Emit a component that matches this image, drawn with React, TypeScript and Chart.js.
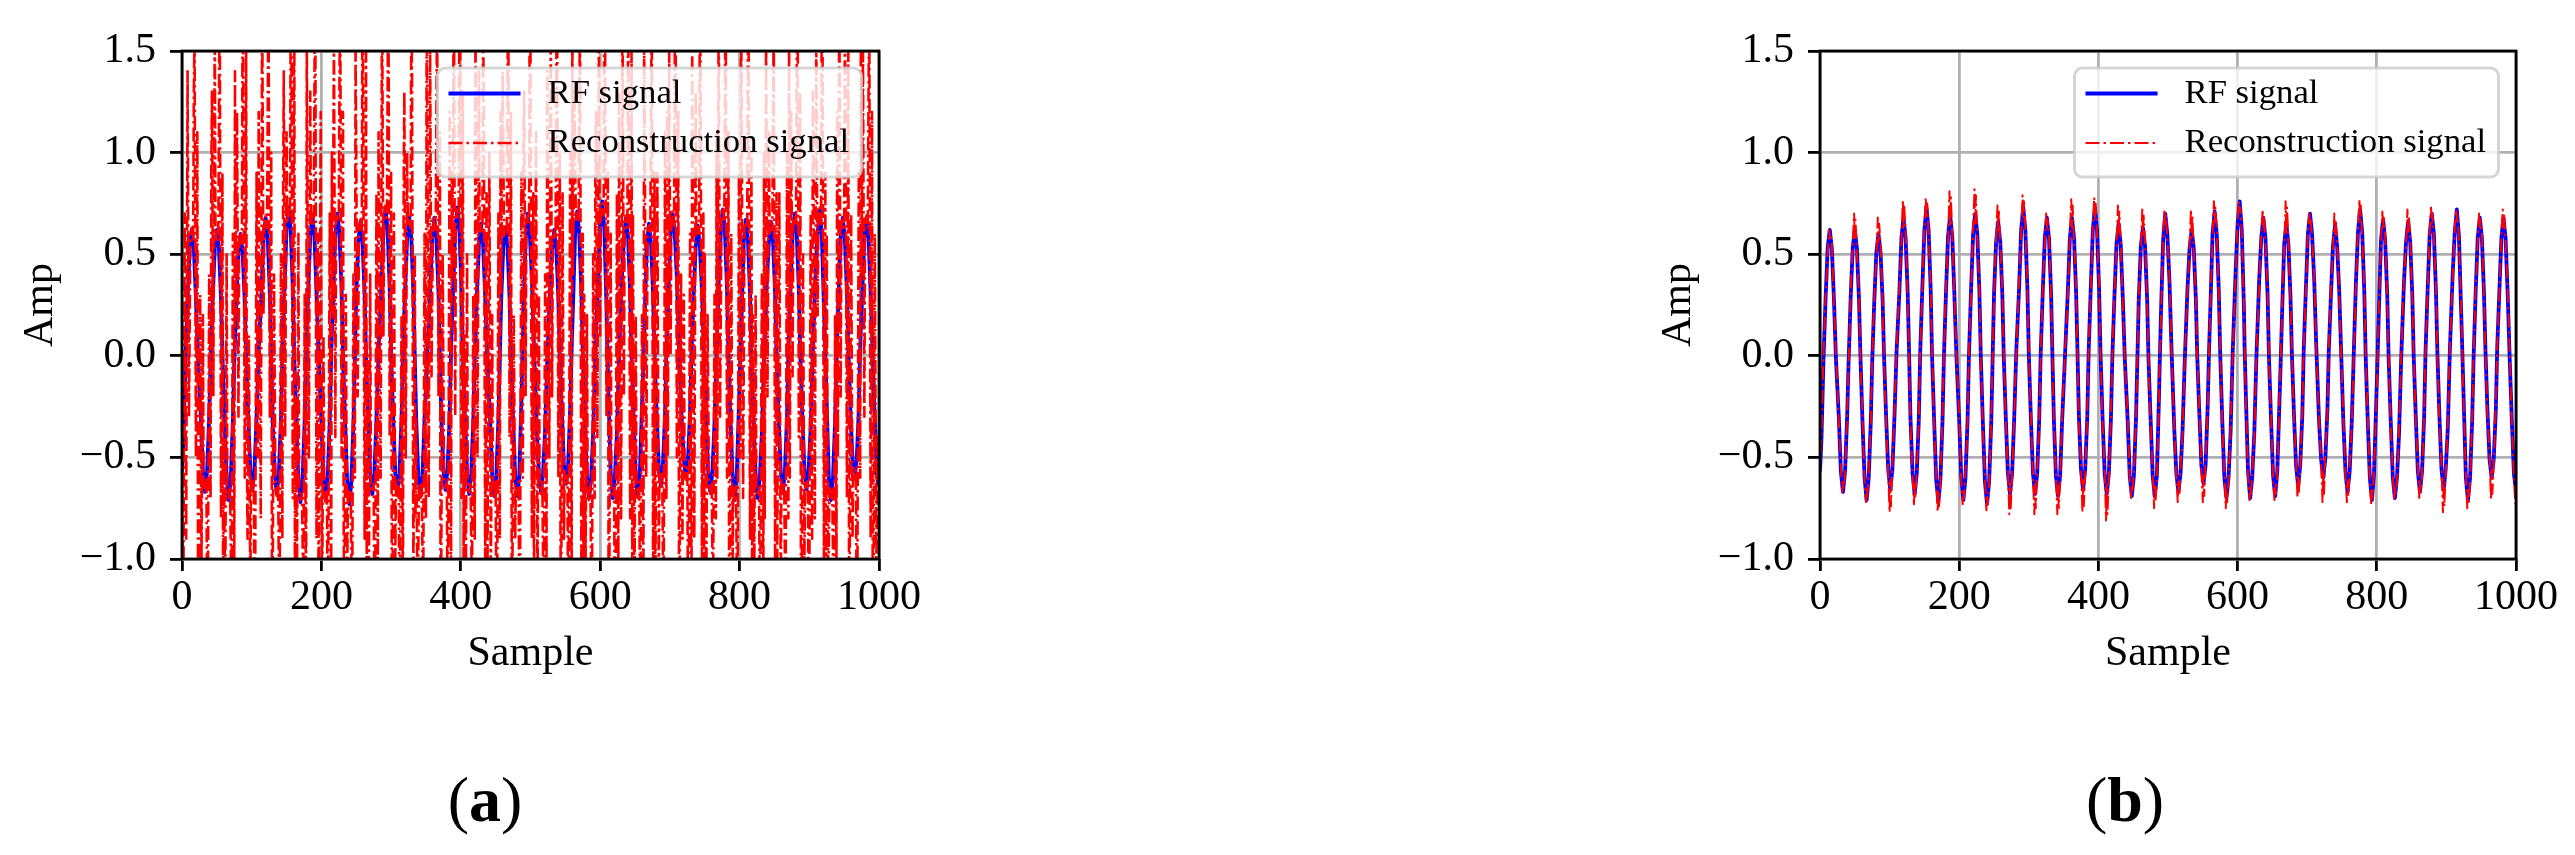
import React, { useEffect, useRef } from "react";
import { Chart, registerables } from "chart.js";

Chart.register(...registerables);

const FONT = "'Liberation Serif', 'Times New Roman', serif";

// ---------------- data ----------------
const xTicks = [0, 200, 400, 600, 800, 1000];
const yTicks = [-1.0, -0.5, 0.0, 0.5, 1.0, 1.5];
const seriesNames = ["RF signal", "Reconstruction signal"];
const xTitle = "Sample";
const yTitle = "Amp";
const panelTags = ["a", "b"];

// RF signal: [sample, amplitude]
const rfSignal: [number, number][] = [
  [0,-0.57],[2,-0.42],[5,-0.02],
  [8,0.28],[11,0.53],[14,0.62],[17,0.53],[20,0.28],[23,-0.02],
  [27,-0.30],[30,-0.57],[33,-0.67],[36,-0.57],[39,-0.30],[41,-0.04],
  [44,0.28],[47,0.53],[50,0.62],[53,0.53],[56,0.28],[58,0.01],
  [61,-0.32],[64,-0.60],[67,-0.71],[70,-0.60],[73,-0.32],[75,-0.03],
  [78,0.27],[81,0.51],[84,0.60],[87,0.51],[90,0.27],[92,0.00],
  [95,-0.30],[98,-0.56],[101,-0.66],[104,-0.56],[107,-0.30],[110,0.02],
  [114,0.31],[117,0.58],[120,0.68],[123,0.58],[126,0.31],[128,0.01],
  [130,-0.31],[133,-0.58],[136,-0.68],[139,-0.58],[142,-0.31],[144,0.02],
  [147,0.33],[150,0.62],[153,0.73],[156,0.62],[159,0.33],[161,0.00],
  [164,-0.32],[167,-0.61],[170,-0.72],[173,-0.61],[176,-0.32],[178,-0.01],
  [181,0.31],[184,0.59],[187,0.69],[190,0.59],[193,0.31],[196,0.00],
  [200,-0.32],[203,-0.60],[206,-0.71],[209,-0.60],[212,-0.32],[214,0.00],
  [217,0.32],[220,0.60],[223,0.70],[226,0.60],[229,0.32],[231,0.00],
  [234,-0.33],[237,-0.62],[240,-0.73],[243,-0.62],[246,-0.33],[248,-0.02],
  [250,0.30],[253,0.56],[256,0.66],[259,0.56],[262,0.30],[264,0.00],
  [267,-0.31],[270,-0.58],[273,-0.68],[276,-0.58],[279,-0.31],[282,0.02],
  [286,0.33],[289,0.62],[292,0.73],[295,0.62],[298,0.33],[300,0.01],
  [303,-0.31],[306,-0.58],[309,-0.68],[312,-0.58],[315,-0.31],[317,0.00],
  [320,0.31],[323,0.58],[326,0.68],[329,0.58],[332,0.31],[334,-0.01],
  [336,-0.31],[339,-0.59],[342,-0.69],[345,-0.59],[348,-0.31],[352,0.00],
  [356,0.31],[359,0.58],[362,0.68],[365,0.58],[368,0.31],[370,0.01],
  [372,-0.30],[375,-0.56],[378,-0.66],[381,-0.56],[384,-0.30],[386,0.02],
  [389,0.33],[392,0.62],[395,0.73],[398,0.62],[401,0.33],[403,0.02],
  [406,-0.31],[409,-0.58],[412,-0.68],[415,-0.58],[418,-0.31],[420,-0.01],
  [423,0.29],[426,0.55],[429,0.65],[432,0.55],[435,0.29],[438,-0.02],
  [442,-0.31],[445,-0.59],[448,-0.69],[451,-0.59],[454,-0.31],[456,-0.02],
  [458,0.28],[461,0.54],[464,0.63],[467,0.54],[470,0.28],[472,-0.02],
  [475,-0.31],[478,-0.59],[481,-0.69],[484,-0.59],[487,-0.21],[488,-0.05],
  [490,0.22],[493,0.57],[496,0.70],[499,0.60],[502,0.38],[505,0.04],
  [509,-0.36],[512,-0.58],[515,-0.67],[518,-0.58],[521,-0.36],[524,-0.03],
  [528,0.33],[531,0.53],[534,0.62],[537,0.53],[540,0.28],[542,0.00],
  [545,-0.28],[548,-0.54],[551,-0.63],[554,-0.54],[557,-0.25],[559,0.03],
  [561,0.25],[564,0.60],[567,0.71],[570,0.60],[573,0.32],[575,0.01],
  [578,-0.32],[581,-0.60],[584,-0.70],[587,-0.60],[590,-0.37],[593,0.02],
  [597,0.40],[600,0.65],[603,0.76],[606,0.62],[609,0.25],[610,0.05],
  [612,-0.21],[615,-0.57],[618,-0.70],[621,-0.60],[624,-0.38],[627,-0.01],
  [631,0.37],[634,0.58],[637,0.68],[640,0.58],[643,0.31],[645,0.00],
  [648,-0.31],[651,-0.59],[654,-0.69],[657,-0.57],[660,-0.24],[662,-0.02],
  [664,0.22],[667,0.55],[670,0.65],[673,0.55],[676,0.29],[678,0.01],
  [681,-0.29],[684,-0.54],[687,-0.64],[690,-0.54],[693,-0.29],[695,0.03],
  [698,0.32],[701,0.60],[704,0.70],[707,0.60],[710,0.38],[713,0.05],
  [717,-0.32],[720,-0.51],[723,-0.60],[726,-0.51],[729,-0.27],[731,0.02],
  [734,0.29],[737,0.54],[740,0.64],[743,0.54],[746,0.32],[749,-0.01],
  [752,-0.33],[755,-0.57],[758,-0.67],[761,-0.57],[764,-0.33],[767,0.02],
  [770,0.36],[773,0.61],[776,0.72],[779,0.61],[782,0.32],[784,0.00],
  [787,-0.32],[790,-0.60],[793,-0.71],[796,-0.58],[799,-0.25],[801,-0.02],
  [803,0.22],[806,0.57],[809,0.67],[812,0.57],[815,0.30],[817,-0.01],
  [820,-0.32],[823,-0.60],[826,-0.70],[829,-0.60],[832,-0.38],[835,-0.02],
  [839,0.36],[842,0.56],[845,0.66],[848,0.56],[851,0.30],[853,0.00],
  [856,-0.30],[859,-0.57],[862,-0.67],[865,-0.57],[868,-0.30],[870,0.02],
  [873,0.32],[876,0.60],[879,0.70],[882,0.60],[885,0.32],[887,0.02],
  [890,-0.30],[893,-0.56],[896,-0.66],[899,-0.56],[902,-0.36],[905,0.03],
  [909,0.40],[912,0.61],[915,0.72],[918,0.59],[921,0.24],[923,0.01],
  [925,-0.24],[928,-0.60],[931,-0.71],[934,-0.60],[937,-0.32],[939,-0.02],
  [942,0.31],[945,0.58],[948,0.68],[951,0.58],[954,0.31],[956,0.04],
  [959,-0.27],[962,-0.51],[965,-0.60],[968,-0.51],[971,-0.27],[973,0.04],
  [976,0.31],[979,0.58],[982,0.68],[985,0.58],[988,0.31],[991,-0.02],
  [994,-0.32],[997,-0.58],[999,-0.64],
];

// Reconstruction signal, panel (a): [sample, amplitude]
const reconstructionA: [number, number][] = [
  [0,-0.55],[2,-1.20],[4,0.70],[6,-0.90],[8,1.40],[10,-0.30],[12,0.56],
  [14,0.63],[16,0.56],[17,1.30],[18,1.60],[20,-0.50],[22,1.10],[23,-1.10],[24,-1.20],[26,0.30],[28,-1.00],[30,0.20],[31,-0.62],
  [33,-0.66],[35,-0.61],[36,-1.20],[37,-1.30],[39,0.40],[41,-0.70],[42,0.90],[43,1.30],[45,-0.20],[47,1.70],[48,0.57],
  [50,0.61],[52,0.57],[53,1.10],[54,2.00],[56,-0.80],[58,0.90],[59,-1.30],[60,-0.40],[62,-1.30],[64,0.50],[65,-0.66],
  [67,-0.70],[69,-0.65],[70,-0.95],[71,-1.40],[73,0.60],[75,-1.00],[76,1.40],[77,0.20],[79,1.20],[81,-0.30],[82,0.56],
  [84,0.61],[86,0.55],[87,1.90],[88,1.30],[90,-0.60],[92,1.50],[93,-0.40],[94,-0.90],[96,0.10],[98,-1.20],[99,-0.60],
  [101,-0.67],[103,-0.61],[104,-1.30],[105,-1.10],[107,0.90],[109,-0.50],[110,1.20],[111,0.30],[113,-0.80],[115,1.80],[117,0.20],[118,0.62],
  [120,0.69],[122,0.63],[123,1.20],[124,1.90],[126,-0.30],[128,1.00],[129,-1.00],[130,-1.20],[132,0.40],[134,-0.62],
  [136,-0.69],[138,-0.63],[139,-1.10],[140,-1.30],[142,0.50],[144,-0.90],[145,0.70],[146,1.40],[148,-0.40],[150,1.10],[151,0.66],
  [153,0.72],[155,0.69],[156,1.80],[157,1.50],[159,-0.70],[161,2.10],[162,-1.20],[163,-0.20],[165,-1.10],[167,0.60],[168,-0.65],
  [170,-0.71],[172,-0.68],[173,-0.90],[174,-1.20],[176,0.30],[178,-1.40],[179,1.60],[180,0.80],[182,-0.50],[184,1.30],[185,0.64],
  [187,0.70],[189,0.65],[190,1.30],[191,2.10],[193,-0.90],[195,0.60],[196,-1.40],[197,-0.20],[199,1.20],[201,-1.30],[203,0.10],[204,-0.65],
  [206,-0.72],[208,-0.66],[209,-1.40],[210,-0.90],[212,0.70],[214,-1.20],[215,1.00],[216,0.20],[218,1.60],[220,-0.40],[221,0.65],
  [223,0.69],[225,0.66],[226,1.40],[227,1.80],[229,-0.50],[231,1.20],[232,-0.90],[233,-1.30],[235,0.30],[237,-1.10],[238,-0.66],
  [240,-0.72],[242,-0.67],[243,-1.00],[244,-1.40],[246,0.40],[248,-0.60],[249,1.50],[250,1.00],[252,-0.20],[254,0.62],
  [256,0.67],[258,0.61],[259,2.00],[260,1.20],[262,-0.90],[264,1.60],[265,-1.10],[266,0.00],[268,-1.20],[270,0.40],[271,-0.64],
  [273,-0.67],[275,-0.63],[276,-1.20],[277,-1.40],[279,0.80],[281,-1.00],[282,1.10],[283,0.30],[285,-0.60],[287,1.90],[289,0.10],[290,0.67],
  [292,0.74],[294,0.68],[295,1.30],[296,2.00],[298,-0.40],[300,0.90],[301,-1.30],[302,-1.20],[304,0.70],[306,-1.00],[307,-0.62],
  [309,-0.69],[311,-0.61],[312,-1.40],[313,-1.00],[315,0.20],[317,-1.30],[318,0.80],[319,1.30],[321,-0.50],[323,1.00],[324,0.64],
  [326,0.67],[328,0.63],[329,1.70],[330,1.40],[332,-1.10],[334,0.50],[335,-0.80],[336,-0.30],[338,-1.30],[340,-0.63],
  [342,-0.70],[344,-0.62],[345,-1.00],[346,-1.30],[348,0.60],[350,-0.80],[351,1.70],[352,1.20],[354,-0.70],[356,1.50],[358,-0.10],[360,0.62],
  [362,0.69],[364,0.62],[365,1.20],[366,1.70],[368,-0.20],[370,1.10],[371,-1.30],[372,-1.00],[374,0.50],[376,-0.62],
  [378,-0.65],[380,-0.62],[381,-1.30],[382,-0.90],[384,1.20],[386,-1.10],[387,0.90],[388,0.40],[390,2.00],[392,-0.30],[393,0.67],
  [395,0.72],[397,0.68],[398,1.90],[399,1.60],[401,-0.70],[403,1.30],[404,-1.00],[405,0.10],[407,-1.40],[409,0.50],[410,-0.64],
  [412,-0.67],[414,-0.63],[415,-0.90],[416,-1.20],[418,0.30],[420,-0.90],[421,1.60],[422,1.10],[424,-0.50],[426,1.40],[427,0.61],
  [429,0.64],[431,0.60],[432,1.60],[433,1.30],[435,-1.00],[437,0.80],[438,-1.40],[439,-0.30],[441,1.00],[443,-1.20],[445,0.20],[446,-0.63],
  [448,-0.70],[450,-0.62],[451,-1.20],[452,-1.40],[454,0.70],[456,-0.90],[457,1.20],[458,0.30],[460,1.40],[462,0.59],
  [464,0.62],[466,0.60],[467,1.30],[468,1.90],[470,-0.40],[472,1.20],[473,-1.00],[474,-1.10],[476,0.20],[478,-0.90],[479,-0.65],
  [481,-0.68],[483,-0.62],[484,-1.40],[485,-1.10],[487,0.90],[489,-0.60],[490,1.10],[491,1.30],[493,-0.20],[494,0.66],
  [496,0.69],[498,0.65],[499,2.00],[500,1.50],[502,-0.90],[504,0.80],[505,-1.30],[506,-0.20],[508,1.10],[510,-1.20],[512,0.30],[513,-0.61],
  [515,-0.68],[517,-0.62],[518,-1.00],[519,-1.30],[521,0.40],[523,-1.00],[524,1.40],[525,0.90],[527,-0.50],[529,1.70],[531,-0.20],[532,0.58],
  [534,0.61],[536,0.57],[537,1.40],[538,2.10],[540,-0.60],[542,1.00],[543,-0.90],[544,-1.30],[546,0.80],[548,-0.90],[549,-0.57],
  [551,-0.64],[553,-0.59],[554,-1.30],[555,-0.90],[557,1.00],[559,-1.20],[560,1.70],[561,0.40],[563,1.30],[565,0.67],
  [567,0.70],[569,0.66],[570,1.20],[571,1.80],[573,-1.10],[575,0.60],[576,-1.30],[577,0.30],[579,-1.00],[581,0.20],[582,-0.64],
  [584,-0.71],[586,-0.63],[587,-1.10],[588,-1.40],[590,0.50],[592,-0.70],[593,0.90],[594,1.20],[596,-0.40],[598,1.60],[600,0.10],[601,0.71],
  [603,0.75],[605,0.69],[606,2.10],[607,1.60],[609,-0.30],[611,0.90],[612,-1.10],[613,-1.20],[615,0.60],[616,-0.66],
  [618,-0.69],[620,-0.65],[621,-1.40],[622,-1.20],[624,0.80],[626,-1.00],[627,1.30],[628,0.10],[630,-0.80],[632,1.90],[634,-0.20],[635,0.62],
  [637,0.69],[639,0.63],[640,1.70],[641,1.20],[643,-0.80],[645,1.50],[646,-1.20],[647,0.70],[649,-1.30],[651,0.20],[652,-0.63],
  [654,-0.70],[656,-0.62],[657,-1.20],[658,-1.00],[660,0.20],[662,-1.30],[663,1.60],[664,1.00],[666,-0.60],[668,0.61],
  [670,0.64],[672,0.61],[673,1.30],[674,1.70],[676,-1.20],[678,0.90],[679,-1.40],[680,-0.40],[682,0.90],[684,-1.10],[685,-0.58],
  [687,-0.65],[689,-0.58],[690,-1.00],[691,-1.30],[693,1.10],[695,-0.70],[696,1.20],[697,-0.50],[699,1.50],[701,0.00],[702,0.64],
  [704,0.71],[706,0.64],[707,1.50],[708,2.00],[710,-0.50],[712,1.20],[713,-1.00],[714,-1.10],[716,0.40],[718,-0.90],[720,0.30],[721,-0.56],
  [723,-0.61],[725,-0.55],[726,-1.30],[727,-1.10],[729,0.60],[731,-1.30],[732,1.50],[733,0.80],[735,-0.90],[737,1.30],[738,0.60],
  [740,0.63],[742,0.60],[743,1.90],[744,1.40],[746,-1.00],[748,0.70],[749,-1.20],[750,0.50],[752,-1.40],[754,0.20],[756,-0.61],
  [758,-0.68],[760,-0.62],[761,-1.00],[762,-1.20],[764,0.30],[766,-0.80],[767,1.10],[768,-0.60],[770,1.80],[772,-0.30],[774,0.66],
  [776,0.73],[778,0.67],[779,1.30],[780,1.90],[782,-0.60],[784,1.10],[785,-1.40],[786,-1.20],[788,0.60],[790,-1.00],[791,-0.65],
  [793,-0.72],[795,-0.64],[796,-1.10],[797,-1.40],[799,0.90],[801,-0.50],[802,1.70],[803,1.30],[805,-0.70],[807,0.63],
  [809,0.66],[811,0.63],[812,1.80],[813,1.50],[815,-0.90],[817,1.00],[818,-1.30],[819,0.20],[821,-1.10],[823,0.30],[824,-0.66],
  [826,-0.69],[828,-0.65],[829,-1.40],[830,-0.90],[832,0.40],[834,-1.30],[835,1.00],[836,-0.80],[838,1.60],[840,-0.20],[842,1.10],[843,0.60],
  [845,0.67],[847,0.62],[848,1.20],[849,1.70],[851,-1.10],[853,0.80],[854,-1.00],[855,-0.30],[857,0.80],[859,-1.20],[860,-0.61],
  [862,-0.68],[864,-0.62],[865,-1.00],[866,-1.30],[868,1.00],[870,-0.80],[871,1.60],[872,-0.60],[874,1.20],[876,-0.10],[877,0.66],
  [879,0.69],[881,0.65],[882,1.50],[883,2.10],[885,-0.40],[887,1.30],[888,-1.20],[889,-1.30],[891,0.50],[893,-1.00],[894,-0.62],
  [896,-0.65],[898,-0.61],[899,-1.30],[900,-1.20],[902,0.70],[904,-0.90],[905,1.30],[906,1.10],[908,-0.80],[910,1.60],[912,0.20],[913,0.66],
  [915,0.73],[917,0.65],[918,2.00],[919,1.60],[921,-1.00],[923,0.90],[924,-1.40],[925,0.60],[927,-1.20],[929,-0.65],
  [931,-0.70],[933,-0.66],[934,-1.00],[935,-1.40],[937,0.20],[939,-1.00],[940,1.20],[941,-0.50],[943,1.90],[945,-0.20],[946,0.64],
  [948,0.67],[950,0.63],[951,1.60],[952,1.30],[954,-0.70],[956,1.50],[957,-1.10],[958,-1.10],[960,0.70],[962,-0.90],[963,-0.55],
  [965,-0.61],[967,-0.56],[968,-1.40],[969,-1.10],[971,0.90],[973,-0.60],[974,1.70],[975,0.40],[977,1.50],[979,-0.30],[980,0.62],
  [982,0.69],[984,0.63],[985,1.30],[986,1.80],[988,-0.90],[990,1.20],[991,-1.20],[992,-1.30],[994,0.60],[996,-1.10],[998,-0.40],[999,-0.62],
];

// Reconstruction signal, panel (b): [sample, amplitude]
const reconstructionB: [number, number][] = [
  [0,-0.60],[2,-0.40],[5,0.01],
  [8,0.30],[11,0.50],[13,0.62],[14,0.58],[15,0.60],[17,0.55],[20,0.26],[23,0.00],
  [27,-0.32],[30,-0.55],[32,-0.67],[33,-0.62],[34,-0.65],[36,-0.58],[39,-0.28],[41,-0.06],
  [44,0.30],[47,0.55],[49,0.70],[50,0.58],[51,0.67],[53,0.50],[56,0.30],[58,-0.02],
  [61,-0.30],[64,-0.62],[66,-0.72],[67,-0.66],[68,-0.69],[70,-0.58],[73,-0.34],[75,-0.01],
  [78,0.29],[81,0.48],[83,0.68],[84,0.56],[85,0.65],[87,0.55],[90,0.25],[92,-0.03],
  [95,-0.32],[98,-0.58],[100,-0.77],[101,-0.61],[102,-0.74],[104,-0.53],[107,-0.28],[110,0.03],
  [114,0.33],[117,0.56],[119,0.77],[120,0.63],[121,0.74],[123,0.61],[126,0.29],[128,-0.01],
  [130,-0.33],[133,-0.60],[135,-0.73],[136,-0.63],[137,-0.70],[139,-0.55],[142,-0.33],[144,0.04],
  [147,0.31],[150,0.65],[152,0.78],[153,0.68],[154,0.75],[156,0.60],[159,0.35],[161,0.02],
  [164,-0.34],[167,-0.58],[169,-0.77],[170,-0.67],[171,-0.74],[173,-0.63],[176,-0.30],[178,0.01],
  [181,0.33],[184,0.56],[186,0.81],[187,0.64],[188,0.78],[190,0.61],[193,0.29],[196,0.01],
  [200,-0.30],[203,-0.62],[205,-0.73],[206,-0.66],[207,-0.70],[209,-0.58],[212,-0.34],[214,0.02],
  [217,0.30],[220,0.63],[222,0.82],[223,0.65],[224,0.79],[226,0.58],[229,0.34],[231,-0.03],
  [234,-0.35],[237,-0.60],[239,-0.76],[240,-0.68],[241,-0.73],[243,-0.64],[246,-0.31],[248,-0.01],
  [250,0.28],[253,0.58],[255,0.74],[256,0.61],[257,0.71],[259,0.54],[262,0.32],[264,0.02],
  [267,-0.33],[270,-0.56],[272,-0.78],[273,-0.63],[274,-0.75],[276,-0.60],[279,-0.29],[282,0.01],
  [286,0.35],[289,0.60],[291,0.79],[292,0.68],[293,0.76],[295,0.64],[298,0.31],[300,0.03],
  [303,-0.29],[306,-0.60],[308,-0.78],[309,-0.63],[310,-0.75],[312,-0.56],[315,-0.33],[317,-0.02],
  [320,0.33],[323,0.56],[325,0.70],[326,0.63],[327,0.67],[329,0.60],[332,0.29],[334,0.01],
  [336,-0.33],[339,-0.57],[341,-0.78],[342,-0.64],[343,-0.75],[345,-0.61],[348,-0.29],[352,0.01],
  [356,0.29],[359,0.60],[361,0.77],[362,0.63],[363,0.74],[365,0.56],[368,0.33],[370,-0.01],
  [372,-0.32],[375,-0.54],[377,-0.77],[378,-0.61],[379,-0.74],[381,-0.58],[384,-0.28],[386,0.04],
  [389,0.31],[392,0.64],[394,0.78],[395,0.68],[396,0.75],[398,0.60],[401,0.35],[403,0.01],
  [406,-0.33],[409,-0.56],[411,-0.81],[412,-0.63],[413,-0.78],[415,-0.60],[418,-0.29],[420,0.00],
  [423,0.31],[426,0.53],[428,0.74],[429,0.60],[430,0.71],[432,0.57],[435,0.27],[438,-0.03],
  [442,-0.29],[445,-0.61],[447,-0.70],[448,-0.64],[449,-0.67],[451,-0.57],[454,-0.33],[456,-0.01],
  [458,0.30],[461,0.52],[463,0.72],[464,0.59],[465,0.69],[467,0.56],[470,0.26],[472,-0.03],
  [475,-0.33],[478,-0.57],[480,-0.75],[481,-0.64],[482,-0.72],[484,-0.61],[487,-0.23],[488,-0.03],
  [490,0.20],[493,0.59],[495,0.72],[496,0.65],[497,0.69],[499,0.58],[502,0.40],[505,0.03],
  [509,-0.34],[512,-0.60],[514,-0.72],[515,-0.62],[516,-0.69],[518,-0.56],[521,-0.38],[524,-0.02],
  [528,0.31],[531,0.55],[533,0.72],[534,0.58],[535,0.69],[537,0.51],[540,0.30],[542,0.01],
  [545,-0.26],[548,-0.56],[550,-0.72],[551,-0.59],[552,-0.69],[554,-0.52],[557,-0.27],[559,0.02],
  [561,0.27],[564,0.58],[566,0.76],[567,0.66],[568,0.73],[570,0.62],[573,0.30],[575,0.02],
  [578,-0.34],[581,-0.58],[583,-0.75],[584,-0.65],[585,-0.72],[587,-0.62],[590,-0.35],[593,0.01],
  [597,0.38],[600,0.67],[602,0.76],[603,0.71],[604,0.73],[606,0.60],[609,0.27],[610,0.06],
  [612,-0.23],[615,-0.59],[617,-0.71],[618,-0.65],[619,-0.68],[621,-0.58],[624,-0.40],[627,0.00],
  [631,0.35],[634,0.60],[636,0.72],[637,0.63],[638,0.69],[640,0.56],[643,0.33],[645,-0.01],
  [648,-0.29],[651,-0.61],[653,-0.71],[654,-0.64],[655,-0.68],[657,-0.59],[660,-0.22],[662,-0.01],
  [664,0.24],[667,0.53],[669,0.76],[670,0.60],[671,0.73],[673,0.57],[676,0.27],[678,0.02],
  [681,-0.31],[684,-0.52],[686,-0.70],[687,-0.60],[688,-0.67],[690,-0.56],[693,-0.27],[695,0.04],
  [698,0.30],[701,0.62],[703,0.70],[704,0.65],[705,0.67],[707,0.58],[710,0.40],[713,0.04],
  [717,-0.30],[720,-0.53],[722,-0.72],[723,-0.56],[724,-0.69],[726,-0.49],[729,-0.29],[731,0.03],
  [734,0.31],[737,0.52],[739,0.70],[740,0.60],[741,0.67],[743,0.56],[746,0.30],[749,-0.02],
  [752,-0.31],[755,-0.59],[757,-0.72],[758,-0.62],[759,-0.69],[761,-0.55],[764,-0.35],[767,0.01],
  [770,0.34],[773,0.63],[775,0.77],[776,0.67],[777,0.74],[779,0.59],[782,0.34],[784,0.01],
  [787,-0.30],[790,-0.62],[792,-0.73],[793,-0.66],[794,-0.70],[796,-0.56],[799,-0.27],[801,-0.03],
  [803,0.24],[806,0.55],[808,0.71],[809,0.62],[810,0.68],[812,0.59],[815,0.28],[817,0.00],
  [820,-0.34],[823,-0.58],[825,-0.71],[826,-0.65],[827,-0.68],[829,-0.62],[832,-0.36],[835,-0.01],
  [839,0.38],[842,0.54],[844,0.72],[845,0.61],[846,0.69],[848,0.58],[851,0.28],[853,0.01],
  [856,-0.32],[859,-0.55],[861,-0.70],[862,-0.62],[863,-0.67],[865,-0.59],[868,-0.28],[870,0.03],
  [873,0.30],[876,0.62],[878,0.73],[879,0.65],[880,0.70],[882,0.58],[885,0.34],[887,0.01],
  [890,-0.32],[893,-0.54],[895,-0.77],[896,-0.61],[897,-0.74],[899,-0.58],[902,-0.34],[905,0.04],
  [909,0.38],[912,0.63],[914,0.72],[915,0.67],[916,0.69],[918,0.57],[921,0.26],[923,0.00],
  [925,-0.26],[928,-0.58],[930,-0.75],[931,-0.66],[932,-0.72],[934,-0.62],[937,-0.30],[939,-0.01],
  [942,0.33],[945,0.56],[947,0.70],[948,0.63],[949,0.67],[951,0.60],[954,0.29],[956,0.03],
  [959,-0.29],[962,-0.49],[964,-0.71],[965,-0.56],[966,-0.68],[968,-0.53],[971,-0.25],[973,0.05],
  [976,0.29],[979,0.60],[981,0.72],[982,0.63],[983,0.69],[985,0.56],[988,0.33],[991,0.01],
  [994,-0.34],[997,-0.60],[999,-0.73],
];

// ---------------- styling ----------------
const BLUE = "#0000ff";
const RED = "#ff0000";
const BLUE_W = 3.8;
const RED_DASH = [14, 4, 2.5, 4];
const GRID = "#b0b0b0";
const LW = 2.8;

const CANVAS_H = 720;
const AREA_TOP = 51;
const AREA_BOTTOM = 559;
const Y_AXIS_W = 182;

function fmtY(v: number) {
  const s = Math.abs(v).toFixed(1);
  return v < -1e-9 ? "\u2212" + s : s;
}

function roundRectPath(ctx: CanvasRenderingContext2D, x: number, y: number, w: number, h: number, r: number) {
  ctx.beginPath();
  ctx.moveTo(x + r, y);
  ctx.lineTo(x + w - r, y);
  ctx.arcTo(x + w, y, x + w, y + r, r);
  ctx.lineTo(x + w, y + h - r);
  ctx.arcTo(x + w, y + h, x + w - r, y + h, r);
  ctx.lineTo(x + r, y + h);
  ctx.arcTo(x, y + h, x, y + h - r, r);
  ctx.lineTo(x, y + r);
  ctx.arcTo(x, y, x + r, y, r);
  ctx.closePath();
}

const frameLegendPlugin = {
  id: "frameLegend",
  afterDatasetsDraw(chart: any) {
    const { ctx, chartArea: a } = chart;
    ctx.save();
    ctx.strokeStyle = "#000";
    ctx.lineWidth = LW;
    ctx.setLineDash([]);
    ctx.strokeRect(a.left, a.top, a.right - a.left, a.bottom - a.top);
    ctx.restore();
  },
  afterDraw(chart: any) {
    const { ctx, chartArea: a } = chart;
    const w = 424;
    const h = 109;
    const x = a.right - 17.5 - w;
    const y = a.top + 17;
    ctx.save();
    roundRectPath(ctx, x, y, w, h, 8);
    ctx.fillStyle = "rgba(255,255,255,0.8)";
    ctx.fill();
    ctx.strokeStyle = "rgba(204,204,204,0.8)";
    ctx.lineWidth = 3;
    ctx.stroke();
    const rows = [0, 1];
    rows.forEach((i) => {
      const d = chart.data.datasets[i];
      const cy = y + 25.5 + i * 49.5;
      ctx.beginPath();
      ctx.setLineDash(d.borderDash || []);
      ctx.lineWidth = d.borderWidth;
      ctx.strokeStyle = d.borderColor;
      ctx.lineCap = "butt";
      ctx.moveTo(x + 11, cy);
      ctx.lineTo(x + 83, cy);
      ctx.stroke();
      ctx.setLineDash([]);
      ctx.fillStyle = "#000";
      ctx.font = `34.7px ${FONT}`;
      ctx.textBaseline = "middle";
      ctx.textAlign = "left";
      ctx.fillText(d.label, x + 110, cy);
    });
    ctx.restore();
  },
};

function makeConfig(recon: { x: number; y: number }[], padRight: number, redWidth: number): any {
  return {
    type: "line",
    data: {
      datasets: [
        {
          label: seriesNames[0],
          data: rfSignal.map(([x, y]) => ({ x, y })),
          borderColor: BLUE,
          borderWidth: BLUE_W,
          borderJoinStyle: "round",
          pointRadius: 0,
          tension: 0,
          fill: false,
          clip: 0,
          order: 2,
        },
        {
          label: seriesNames[1],
          data: recon,
          borderColor: RED,
          borderWidth: redWidth,
          borderDash: RED_DASH,
          borderJoinStyle: "round",
          pointRadius: 0,
          tension: 0,
          fill: false,
          clip: 0,
          order: 1,
        },
      ],
    },
    options: {
      animation: false,
      responsive: false,
      devicePixelRatio: 1,
      events: [],
      layout: { padding: { left: 0, top: AREA_TOP, right: padRight, bottom: 0 } },
      plugins: {
        legend: { display: false },
        tooltip: { enabled: false },
        title: { display: false },
      },
      scales: {
        x: {
          type: "linear",
          min: 0,
          max: 1000,
          afterBuildTicks: (s: any) => {
            s.ticks = xTicks.map((v) => ({ value: v }));
          },
          afterFit: (s: any) => {
            s.height = CANVAS_H - AREA_BOTTOM;
          },
          border: { display: false },
          grid: {
            color: GRID,
            lineWidth: LW,
            drawTicks: true,
            tickLength: 12,
            tickColor: "#000",
            tickWidth: LW,
          },
          ticks: {
            autoSkip: false,
            maxRotation: 0,
            color: "#000",
            padding: 2,
            font: { family: FONT, size: 42, lineHeight: 1.2 },
            callback: (v: any) => String(v),
          },
          title: {
            display: true,
            text: xTitle,
            color: "#000",
            font: { family: FONT, size: 42, lineHeight: 1.2 },
            padding: { top: 0, bottom: 41 },
          },
        },
        y: {
          type: "linear",
          min: -1,
          max: 1.5,
          afterBuildTicks: (s: any) => {
            s.ticks = yTicks.map((v) => ({ value: v }));
          },
          afterFit: (s: any) => {
            s.width = Y_AXIS_W;
          },
          border: { display: false },
          grid: {
            color: GRID,
            lineWidth: LW,
            drawTicks: true,
            tickLength: 12,
            tickColor: "#000",
            tickWidth: LW,
          },
          ticks: {
            autoSkip: false,
            color: "#000",
            padding: 14,
            font: { family: FONT, size: 42, lineHeight: 1.2 },
            callback: (v: any) => fmtY(Number(v)),
          },
          title: {
            display: true,
            text: yTitle,
            color: "#000",
            font: { family: FONT, size: 42, lineHeight: 1.2 },
            padding: { top: 16, bottom: 0 },
          },
        },
      },
    },
    plugins: [frameLegendPlugin],
  };
}

function Panel(props: { left: number; width: number; chartRight: number; redWidth: number; recon: { x: number; y: number }[] }) {
  const ref = useRef<HTMLCanvasElement | null>(null);
  useEffect(() => {
    if (!ref.current) return;
    const chart = new Chart(ref.current, makeConfig(props.recon, props.width - props.chartRight, props.redWidth));
    return () => chart.destroy();
  }, []);
  return (
    <canvas
      ref={ref}
      width={props.width}
      height={CANVAS_H}
      style={{ position: "absolute", left: props.left, top: 0, width: props.width, height: CANVAS_H }}
    />
  );
}

function Tag(props: { cx: number; cy: number; letter: string }) {
  return (
    <div
      style={{
        position: "absolute",
        left: props.cx,
        top: props.cy,
        transform: "translate(-50%, -50%)",
        fontFamily: FONT,
        fontSize: 64,
        lineHeight: 1,
        color: "#000",
        whiteSpace: "nowrap",
      }}
    >
      (<b>{props.letter}</b>)
    </div>
  );
}

export default function App() {
  const reconA = reconstructionA.map(([x, y]) => ({ x, y }));
  const reconB = reconstructionB.map(([x, y]) => ({ x, y }));
  return (
    <div style={{ position: "absolute", left: 0, top: 0, width: 2575, height: 855, background: "#fff", overflow: "hidden" }}>
      <Panel left={0} width={960} chartRight={879} redWidth={2.6} recon={reconA} />
      <Panel left={1638} width={937} chartRight={878} redWidth={2.0} recon={reconB} />
      <Tag cx={485} cy={800} letter={panelTags[0]} />
      <Tag cx={2125} cy={800} letter={panelTags[1]} />
    </div>
  );
}
